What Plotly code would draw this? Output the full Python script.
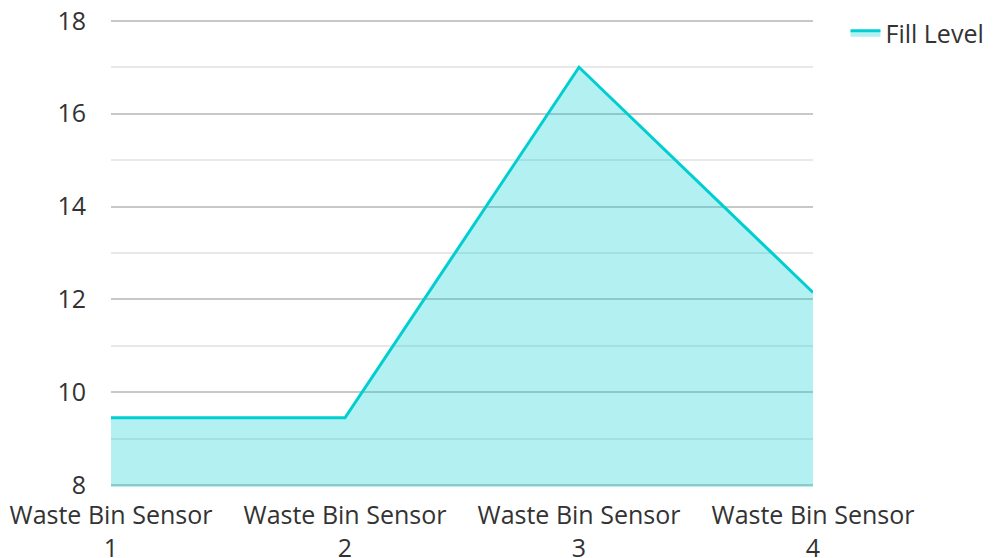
import plotly.graph_objects as go

categories = ["Waste Bin Sensor<br>1", "Waste Bin Sensor<br>2", "Waste Bin Sensor<br>3", "Waste Bin Sensor<br>4"]
fill_level = [9.45, 9.45, 17.0, 12.15]
series_name = "Fill Level"

fig = go.Figure()
fig.add_trace(go.Scatter(
    x=categories, y=fill_level, name=series_name, mode="lines",
    line=dict(color="#00CED1", width=3),
    fill="tozeroy", fillcolor="rgba(0,206,209,0.3)",
))

font = "Open Sans"
fs = 25
fig.update_layout(
    width=997, height=558,
    margin=dict(l=103, r=192, t=11, b=79),
    paper_bgcolor="white", plot_bgcolor="white",
    font=dict(family=font, size=fs, color="#333333"),
    showlegend=True,
    legend=dict(xref="container", yref="container", x=0.84, y=0.955,
                xanchor="left", yanchor="middle", font=dict(size=fs, color="#333333")),
    xaxis=dict(showgrid=False, showline=False, zeroline=False, ticks="", range=[0, 3],
               automargin=False, ticklabelstandoff=11, tickfont=dict(size=fs, color="#333333")),
    yaxis=dict(range=[7.96, 18.04], dtick=2, showgrid=True, gridcolor="#c8c8c8", gridwidth=2,
               zeroline=False, showline=False, ticks="", ticklabelstandoff=24,
               ticklabeloverflow="allow", automargin=False,
               tickfont=dict(size=fs, color="#333333"),
               minor=dict(dtick=1, showgrid=True, gridcolor="#e8e8e8", gridwidth=2)),
)
fig.write_html("out.html")
